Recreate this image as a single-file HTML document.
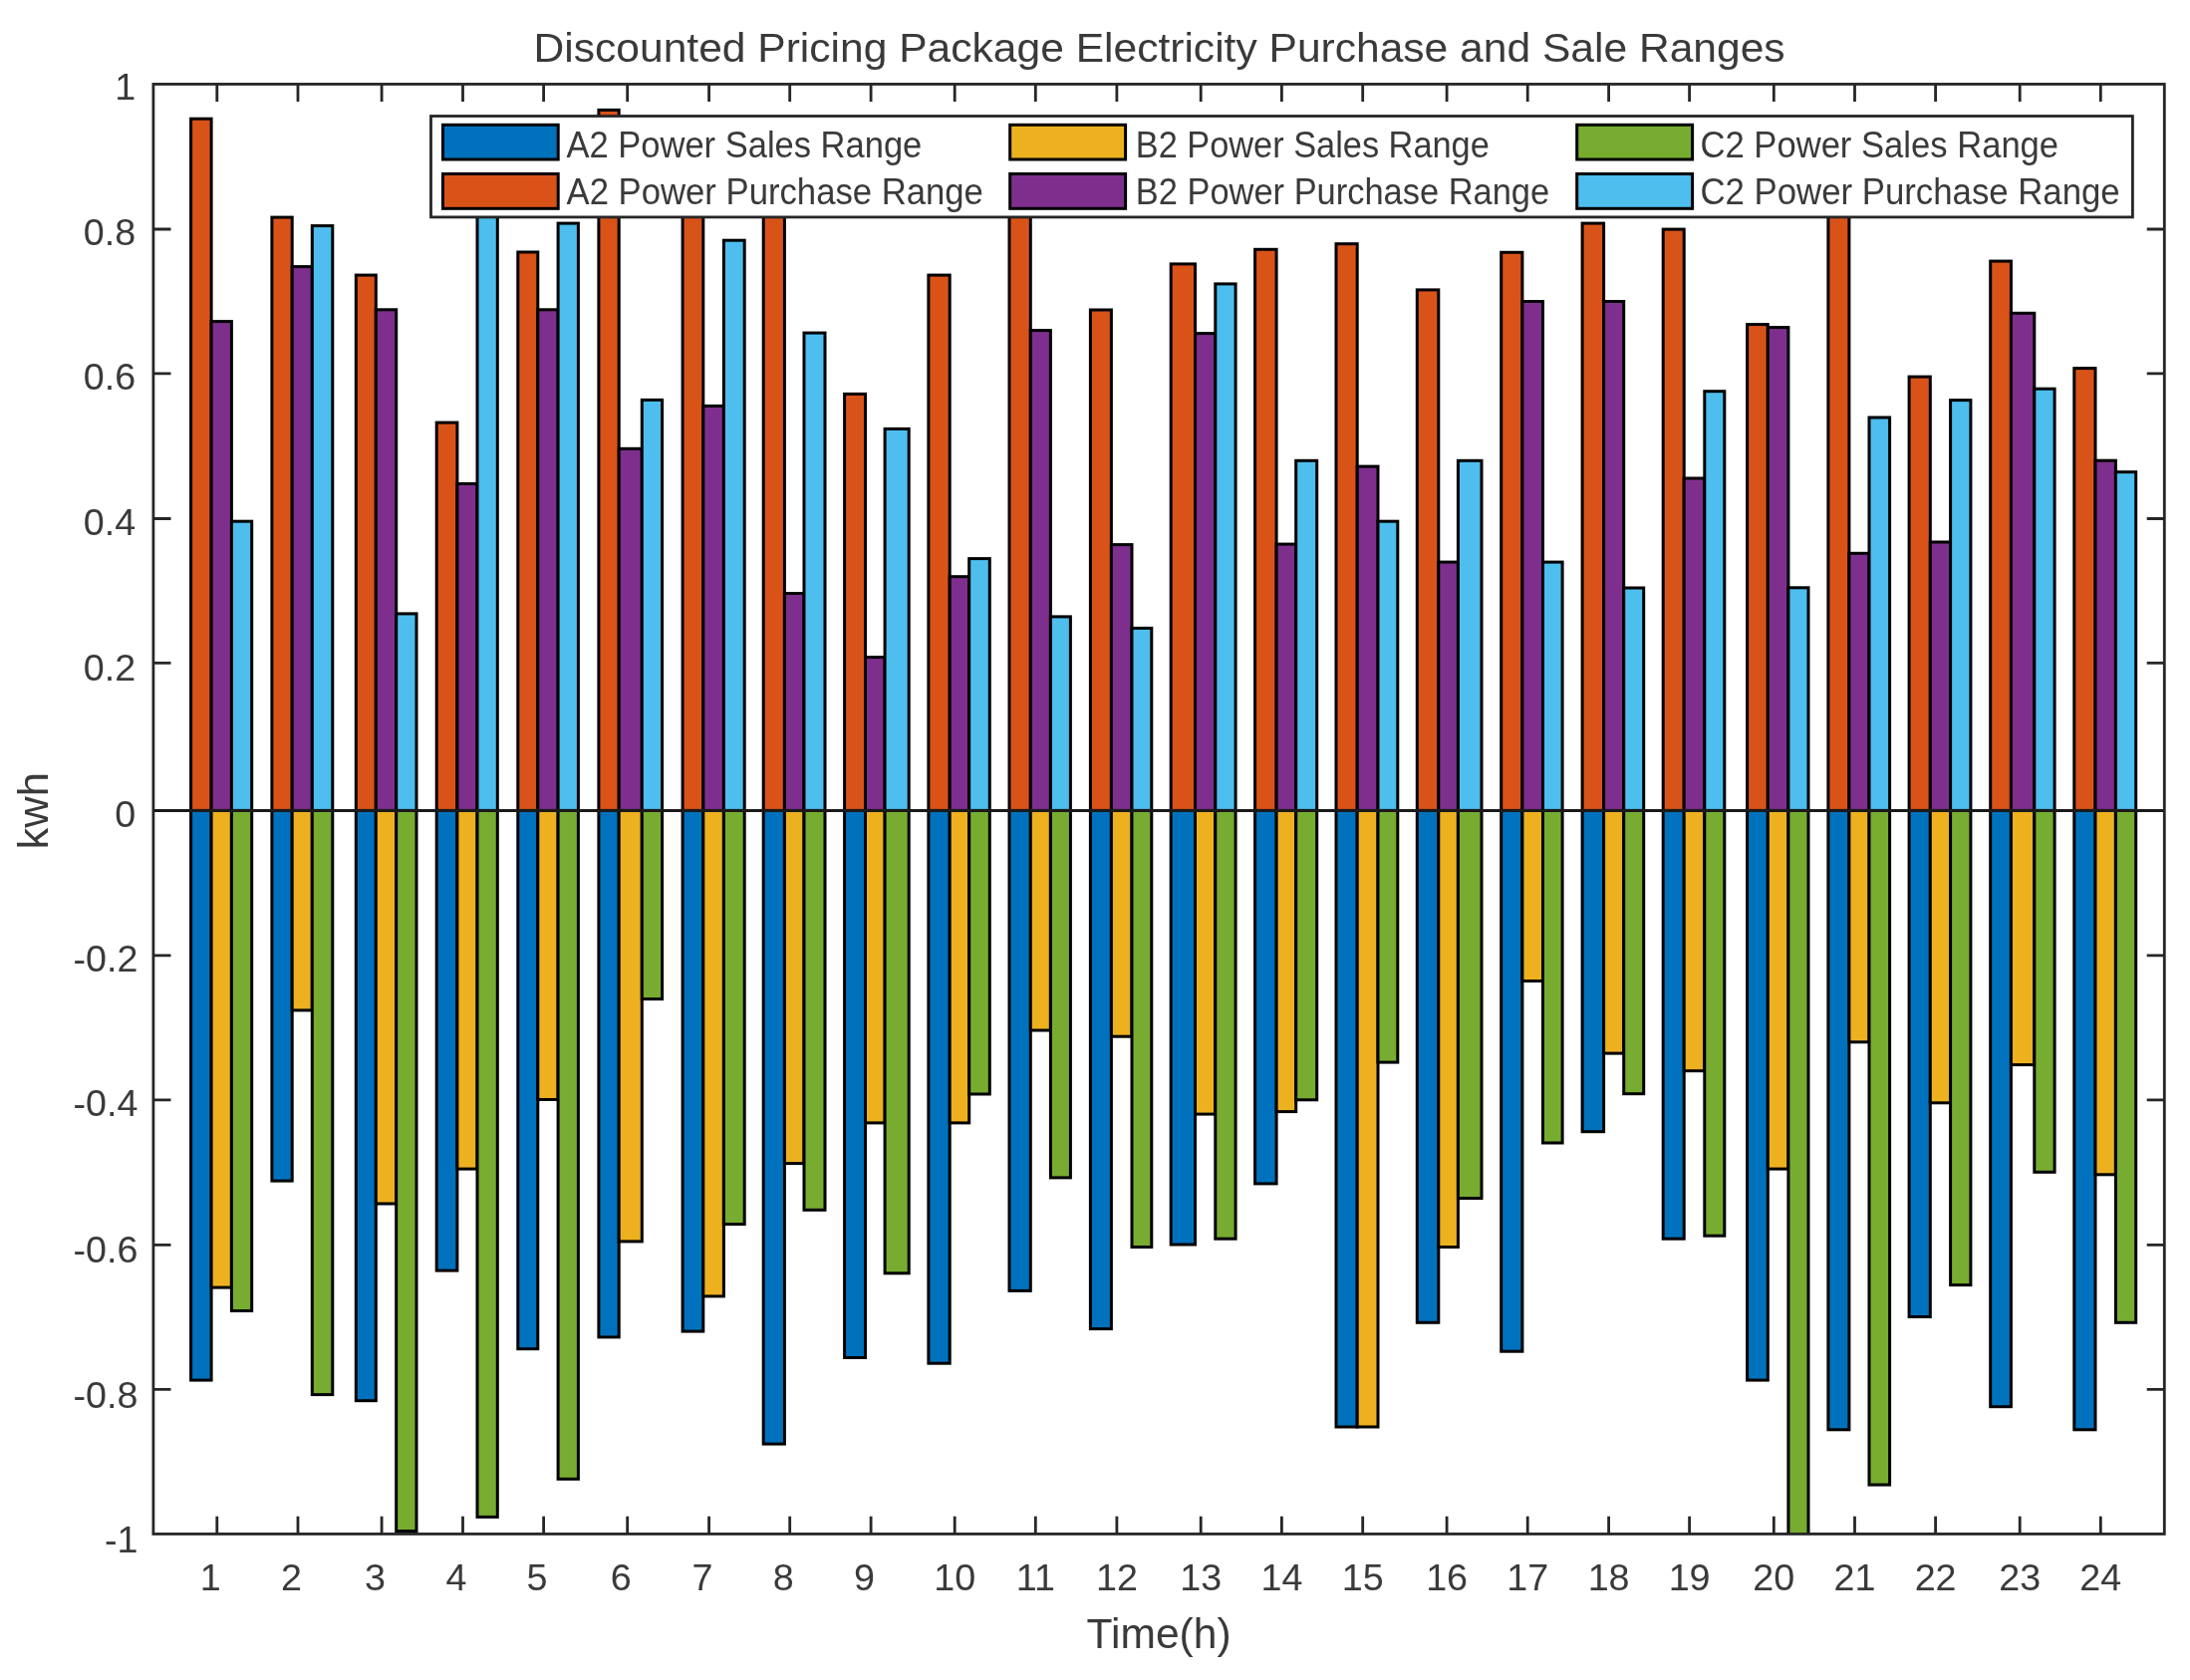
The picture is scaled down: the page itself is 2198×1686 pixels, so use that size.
<!DOCTYPE html>
<html lang="en"><head><meta charset="utf-8"><title>Discounted Pricing Package Electricity Purchase and Sale Ranges</title>
<style>html,body{margin:0;padding:0;background:#fff}body{width:2198px;height:1686px;overflow:hidden}svg{display:block;filter:blur(0.6px)}text{font-family:"Liberation Sans",sans-serif;fill:#3a3a3a}</style></head><body>
<svg width="2198" height="1686" viewBox="0 0 2198 1686">
<defs><clipPath id="ax"><rect x="153.9" y="84.45" width="2018.4" height="1455"/></clipPath></defs>
<rect width="2198" height="1686" fill="#fff"/>
<g stroke="#262626" stroke-width="2.8" fill="none">
<path d="M217.8 84.45 v17.6 M217.8 1539.45 v-17.6"/>
<path d="M299 84.45 v17.6 M299 1539.45 v-17.6"/>
<path d="M383.1 84.45 v17.6 M383.1 1539.45 v-17.6"/>
<path d="M464.5 84.45 v17.6 M464.5 1539.45 v-17.6"/>
<path d="M545.6 84.45 v17.6 M545.6 1539.45 v-17.6"/>
<path d="M629.7 84.45 v17.6 M629.7 1539.45 v-17.6"/>
<path d="M711.6 84.45 v17.6 M711.6 1539.45 v-17.6"/>
<path d="M792.7 84.45 v17.6 M792.7 1539.45 v-17.6"/>
<path d="M874.1 84.45 v17.6 M874.1 1539.45 v-17.6"/>
<path d="M958.2 84.45 v17.6 M958.2 1539.45 v-17.6"/>
<path d="M1039.3 84.45 v17.6 M1039.3 1539.45 v-17.6"/>
<path d="M1120.9 84.45 v17.6 M1120.9 1539.45 v-17.6"/>
<path d="M1205.2 84.45 v17.6 M1205.2 1539.45 v-17.6"/>
<path d="M1286.4 84.45 v17.6 M1286.4 1539.45 v-17.6"/>
<path d="M1367.7 84.45 v17.6 M1367.7 1539.45 v-17.6"/>
<path d="M1452.1 84.45 v17.6 M1452.1 1539.45 v-17.6"/>
<path d="M1533.2 84.45 v17.6 M1533.2 1539.45 v-17.6"/>
<path d="M1614.6 84.45 v17.6 M1614.6 1539.45 v-17.6"/>
<path d="M1695.6 84.45 v17.6 M1695.6 1539.45 v-17.6"/>
<path d="M1780.3 84.45 v17.6 M1780.3 1539.45 v-17.6"/>
<path d="M1861.5 84.45 v17.6 M1861.5 1539.45 v-17.6"/>
<path d="M1942.6 84.45 v17.6 M1942.6 1539.45 v-17.6"/>
<path d="M2027.2 84.45 v17.6 M2027.2 1539.45 v-17.6"/>
<path d="M2108.3 84.45 v17.6 M2108.3 1539.45 v-17.6"/>
<path d="M153.9 230 h17.6 M2172.3 230 h-17.6"/>
<path d="M153.9 374.9 h17.6 M2172.3 374.9 h-17.6"/>
<path d="M153.9 520.5 h17.6 M2172.3 520.5 h-17.6"/>
<path d="M153.9 665.3 h17.6 M2172.3 665.3 h-17.6"/>
<path d="M153.9 813.4 h17.6 M2172.3 813.4 h-17.6"/>
<path d="M153.9 958.8 h17.6 M2172.3 958.8 h-17.6"/>
<path d="M153.9 1103.9 h17.6 M2172.3 1103.9 h-17.6"/>
<path d="M153.9 1249.4 h17.6 M2172.3 1249.4 h-17.6"/>
<path d="M153.9 1394.3 h17.6 M2172.3 1394.3 h-17.6"/>
</g>
<g clip-path="url(#ax)" stroke="#000" stroke-width="3">
<rect x="191.6" y="813.4" width="20.5" height="571.7" fill="#0072BD"/>
<rect x="212.1" y="813.4" width="20.3" height="478.7" fill="#EDB120"/>
<rect x="232.4" y="813.4" width="20.3" height="502.1" fill="#77AC30"/>
<rect x="191.6" y="119.2" width="20.5" height="694.2" fill="#D95319"/>
<rect x="212.1" y="322.6" width="20.3" height="490.8" fill="#7E2F8E"/>
<rect x="232.4" y="523.2" width="20.3" height="290.2" fill="#4DBEEE"/>
<rect x="272.9" y="813.4" width="20.3" height="371.7" fill="#0072BD"/>
<rect x="293.2" y="813.4" width="20.1" height="200.5" fill="#EDB120"/>
<rect x="313.3" y="813.4" width="20.5" height="586.2" fill="#77AC30"/>
<rect x="272.9" y="218.1" width="20.3" height="595.3" fill="#D95319"/>
<rect x="293.2" y="267.6" width="20.1" height="545.8" fill="#7E2F8E"/>
<rect x="313.3" y="226.6" width="20.5" height="586.8" fill="#4DBEEE"/>
<rect x="357.3" y="813.4" width="20.0" height="592.3" fill="#0072BD"/>
<rect x="377.3" y="813.4" width="20.4" height="394.6" fill="#EDB120"/>
<rect x="397.7" y="813.4" width="20.3" height="723.2" fill="#77AC30"/>
<rect x="357.3" y="276.1" width="20.0" height="537.3" fill="#D95319"/>
<rect x="377.3" y="310.8" width="20.4" height="502.6" fill="#7E2F8E"/>
<rect x="397.7" y="615.9" width="20.3" height="197.5" fill="#4DBEEE"/>
<rect x="438.2" y="813.4" width="20.7" height="461.7" fill="#0072BD"/>
<rect x="458.9" y="813.4" width="20.1" height="359.7" fill="#EDB120"/>
<rect x="479.0" y="813.4" width="20.3" height="709.0" fill="#77AC30"/>
<rect x="438.2" y="424.1" width="20.7" height="389.3" fill="#D95319"/>
<rect x="458.9" y="485.5" width="20.1" height="327.9" fill="#7E2F8E"/>
<rect x="479.0" y="165.9" width="20.3" height="647.5" fill="#4DBEEE"/>
<rect x="519.8" y="813.4" width="20.0" height="540.3" fill="#0072BD"/>
<rect x="539.8" y="813.4" width="20.3" height="290.1" fill="#EDB120"/>
<rect x="560.1" y="813.4" width="20.3" height="670.9" fill="#77AC30"/>
<rect x="519.8" y="253.0" width="20.0" height="560.4" fill="#D95319"/>
<rect x="539.8" y="310.8" width="20.3" height="502.6" fill="#7E2F8E"/>
<rect x="560.1" y="224.1" width="20.3" height="589.3" fill="#4DBEEE"/>
<rect x="600.9" y="813.4" width="20.3" height="528.5" fill="#0072BD"/>
<rect x="621.2" y="813.4" width="23.1" height="432.5" fill="#EDB120"/>
<rect x="644.3" y="813.4" width="20.3" height="189.2" fill="#77AC30"/>
<rect x="600.9" y="110.4" width="20.3" height="703.0" fill="#D95319"/>
<rect x="621.2" y="450.3" width="23.1" height="363.1" fill="#7E2F8E"/>
<rect x="644.3" y="401.4" width="20.3" height="412.0" fill="#4DBEEE"/>
<rect x="685.1" y="813.4" width="20.7" height="522.7" fill="#0072BD"/>
<rect x="705.8" y="813.4" width="20.6" height="487.5" fill="#EDB120"/>
<rect x="726.4" y="813.4" width="20.8" height="415.2" fill="#77AC30"/>
<rect x="685.1" y="165.9" width="20.7" height="647.5" fill="#D95319"/>
<rect x="705.8" y="407.4" width="20.6" height="406.0" fill="#7E2F8E"/>
<rect x="726.4" y="241.2" width="20.8" height="572.2" fill="#4DBEEE"/>
<rect x="766.2" y="813.4" width="21.2" height="635.7" fill="#0072BD"/>
<rect x="787.4" y="813.4" width="19.6" height="354.2" fill="#EDB120"/>
<rect x="807.0" y="813.4" width="21.0" height="400.9" fill="#77AC30"/>
<rect x="766.2" y="165.9" width="21.2" height="647.5" fill="#D95319"/>
<rect x="787.4" y="595.5" width="19.6" height="217.9" fill="#7E2F8E"/>
<rect x="807.0" y="334.1" width="21.0" height="479.3" fill="#4DBEEE"/>
<rect x="847.6" y="813.4" width="20.9" height="549.1" fill="#0072BD"/>
<rect x="868.5" y="813.4" width="19.6" height="313.5" fill="#EDB120"/>
<rect x="888.1" y="813.4" width="24.1" height="464.4" fill="#77AC30"/>
<rect x="847.6" y="395.4" width="20.9" height="418.0" fill="#D95319"/>
<rect x="868.5" y="659.6" width="19.6" height="153.8" fill="#7E2F8E"/>
<rect x="888.1" y="430.4" width="24.1" height="383.0" fill="#4DBEEE"/>
<rect x="931.9" y="813.4" width="21.3" height="554.8" fill="#0072BD"/>
<rect x="953.2" y="813.4" width="19.5" height="313.5" fill="#EDB120"/>
<rect x="972.7" y="813.4" width="20.6" height="284.6" fill="#77AC30"/>
<rect x="931.9" y="276.1" width="21.3" height="537.3" fill="#D95319"/>
<rect x="953.2" y="578.7" width="19.5" height="234.7" fill="#7E2F8E"/>
<rect x="972.7" y="560.6" width="20.6" height="252.8" fill="#4DBEEE"/>
<rect x="1013.0" y="813.4" width="21.3" height="482.0" fill="#0072BD"/>
<rect x="1034.3" y="813.4" width="20.1" height="220.6" fill="#EDB120"/>
<rect x="1054.4" y="813.4" width="20.0" height="368.5" fill="#77AC30"/>
<rect x="1013.0" y="165.9" width="21.3" height="647.5" fill="#D95319"/>
<rect x="1034.3" y="331.6" width="20.1" height="481.8" fill="#7E2F8E"/>
<rect x="1054.4" y="618.9" width="20.0" height="194.5" fill="#4DBEEE"/>
<rect x="1094.4" y="813.4" width="21.0" height="520.2" fill="#0072BD"/>
<rect x="1115.4" y="813.4" width="20.6" height="226.8" fill="#EDB120"/>
<rect x="1136.0" y="813.4" width="19.8" height="438.1" fill="#77AC30"/>
<rect x="1094.4" y="311.0" width="21.0" height="502.4" fill="#D95319"/>
<rect x="1115.4" y="546.6" width="20.6" height="266.8" fill="#7E2F8E"/>
<rect x="1136.0" y="630.4" width="19.8" height="183.0" fill="#4DBEEE"/>
<rect x="1175.2" y="813.4" width="24.3" height="435.6" fill="#0072BD"/>
<rect x="1199.5" y="813.4" width="20.3" height="304.7" fill="#EDB120"/>
<rect x="1219.8" y="813.4" width="20.3" height="429.8" fill="#77AC30"/>
<rect x="1175.2" y="264.9" width="24.3" height="548.5" fill="#D95319"/>
<rect x="1199.5" y="334.6" width="20.3" height="478.8" fill="#7E2F8E"/>
<rect x="1219.8" y="284.9" width="20.3" height="528.5" fill="#4DBEEE"/>
<rect x="1259.6" y="813.4" width="21.5" height="374.5" fill="#0072BD"/>
<rect x="1281.1" y="813.4" width="19.6" height="302.2" fill="#EDB120"/>
<rect x="1300.7" y="813.4" width="21.0" height="290.4" fill="#77AC30"/>
<rect x="1259.6" y="250.3" width="21.5" height="563.1" fill="#D95319"/>
<rect x="1281.1" y="546.1" width="19.6" height="267.3" fill="#7E2F8E"/>
<rect x="1300.7" y="462.3" width="21.0" height="351.1" fill="#4DBEEE"/>
<rect x="1341.0" y="813.4" width="21.2" height="618.6" fill="#0072BD"/>
<rect x="1362.2" y="813.4" width="20.8" height="618.6" fill="#EDB120"/>
<rect x="1383.0" y="813.4" width="19.8" height="252.7" fill="#77AC30"/>
<rect x="1341.0" y="244.7" width="21.2" height="568.7" fill="#D95319"/>
<rect x="1362.2" y="468.1" width="20.8" height="345.3" fill="#7E2F8E"/>
<rect x="1383.0" y="523.2" width="19.8" height="290.2" fill="#4DBEEE"/>
<rect x="1422.3" y="813.4" width="21.5" height="513.9" fill="#0072BD"/>
<rect x="1443.8" y="813.4" width="19.6" height="438.1" fill="#EDB120"/>
<rect x="1463.4" y="813.4" width="23.6" height="389.2" fill="#77AC30"/>
<rect x="1422.3" y="290.9" width="21.5" height="522.5" fill="#D95319"/>
<rect x="1443.8" y="564.1" width="19.6" height="249.3" fill="#7E2F8E"/>
<rect x="1463.4" y="462.3" width="23.6" height="351.1" fill="#4DBEEE"/>
<rect x="1506.7" y="813.4" width="21.2" height="542.8" fill="#0072BD"/>
<rect x="1527.9" y="813.4" width="20.6" height="171.1" fill="#EDB120"/>
<rect x="1548.5" y="813.4" width="19.6" height="333.6" fill="#77AC30"/>
<rect x="1506.7" y="253.3" width="21.2" height="560.1" fill="#D95319"/>
<rect x="1527.9" y="302.5" width="20.6" height="510.9" fill="#7E2F8E"/>
<rect x="1548.5" y="564.1" width="19.6" height="249.3" fill="#4DBEEE"/>
<rect x="1588.1" y="813.4" width="21.5" height="322.3" fill="#0072BD"/>
<rect x="1609.6" y="813.4" width="20.1" height="243.7" fill="#EDB120"/>
<rect x="1629.7" y="813.4" width="20.0" height="284.3" fill="#77AC30"/>
<rect x="1588.1" y="224.1" width="21.5" height="589.3" fill="#D95319"/>
<rect x="1609.6" y="302.5" width="20.1" height="510.9" fill="#7E2F8E"/>
<rect x="1629.7" y="590.0" width="20.0" height="223.4" fill="#4DBEEE"/>
<rect x="1669.2" y="813.4" width="21.0" height="429.8" fill="#0072BD"/>
<rect x="1690.2" y="813.4" width="20.6" height="261.3" fill="#EDB120"/>
<rect x="1710.8" y="813.4" width="20.0" height="426.8" fill="#77AC30"/>
<rect x="1669.2" y="230.1" width="21.0" height="583.3" fill="#D95319"/>
<rect x="1690.2" y="480.0" width="20.6" height="333.4" fill="#7E2F8E"/>
<rect x="1710.8" y="392.7" width="20.0" height="420.7" fill="#4DBEEE"/>
<rect x="1753.6" y="813.4" width="20.7" height="571.7" fill="#0072BD"/>
<rect x="1774.3" y="813.4" width="20.6" height="359.7" fill="#EDB120"/>
<rect x="1794.9" y="813.4" width="20.1" height="745.7" fill="#77AC30"/>
<rect x="1753.6" y="325.6" width="20.7" height="487.8" fill="#D95319"/>
<rect x="1774.3" y="328.6" width="20.6" height="484.8" fill="#7E2F8E"/>
<rect x="1794.9" y="589.8" width="20.1" height="223.6" fill="#4DBEEE"/>
<rect x="1834.9" y="813.4" width="21.0" height="621.4" fill="#0072BD"/>
<rect x="1855.9" y="813.4" width="20.1" height="232.4" fill="#EDB120"/>
<rect x="1876.0" y="813.4" width="20.6" height="676.7" fill="#77AC30"/>
<rect x="1834.9" y="165.9" width="21.0" height="647.5" fill="#D95319"/>
<rect x="1855.9" y="555.3" width="20.1" height="258.1" fill="#7E2F8E"/>
<rect x="1876.0" y="419.0" width="20.6" height="394.4" fill="#4DBEEE"/>
<rect x="1916.1" y="813.4" width="21.2" height="508.1" fill="#0072BD"/>
<rect x="1937.3" y="813.4" width="20.3" height="293.4" fill="#EDB120"/>
<rect x="1957.6" y="813.4" width="20.3" height="476.2" fill="#77AC30"/>
<rect x="1916.1" y="378.1" width="21.2" height="435.3" fill="#D95319"/>
<rect x="1937.3" y="544.0" width="20.3" height="269.4" fill="#7E2F8E"/>
<rect x="1957.6" y="401.6" width="20.3" height="411.8" fill="#4DBEEE"/>
<rect x="1997.7" y="813.4" width="20.7" height="598.3" fill="#0072BD"/>
<rect x="2018.4" y="813.4" width="23.4" height="255.2" fill="#EDB120"/>
<rect x="2041.8" y="813.4" width="20.3" height="362.9" fill="#77AC30"/>
<rect x="1997.7" y="262.1" width="20.7" height="551.3" fill="#D95319"/>
<rect x="2018.4" y="314.3" width="23.4" height="499.1" fill="#7E2F8E"/>
<rect x="2041.8" y="390.2" width="20.3" height="423.2" fill="#4DBEEE"/>
<rect x="2081.8" y="813.4" width="21.2" height="621.4" fill="#0072BD"/>
<rect x="2103.0" y="813.4" width="20.4" height="365.4" fill="#EDB120"/>
<rect x="2123.4" y="813.4" width="20.3" height="513.9" fill="#77AC30"/>
<rect x="2081.8" y="369.6" width="21.2" height="443.8" fill="#D95319"/>
<rect x="2103.0" y="462.2" width="20.4" height="351.2" fill="#7E2F8E"/>
<rect x="2123.4" y="473.7" width="20.3" height="339.7" fill="#4DBEEE"/>
</g>
<path d="M153.9 813.4 H2172.3" stroke="#1a1a1a" stroke-width="3"/>
<rect x="153.9" y="84.45" width="2018.4" height="1455" fill="none" stroke="#262626" stroke-width="2.8"/>
<g font-size="37.7" text-anchor="end">
<text x="136.2" y="99.7">1</text>
<text x="136.2" y="245.5">0.8</text>
<text x="136.2" y="390.5">0.6</text>
<text x="136.2" y="536.5">0.4</text>
<text x="136.2" y="682.9">0.2</text>
<text x="136.2" y="829.5">0</text>
<text x="138.5" y="974.5">-0.2</text>
<text x="138.5" y="1119.5">-0.4</text>
<text x="138.5" y="1266.7">-0.6</text>
<text x="138.5" y="1412.9">-0.8</text>
<text x="138.5" y="1558.2">-1</text>
</g>
<g font-size="37.7" text-anchor="middle">
<text x="211.3" y="1595.6">1</text>
<text x="292.5" y="1595.6">2</text>
<text x="376.6" y="1595.6">3</text>
<text x="458" y="1595.6">4</text>
<text x="539.1" y="1595.6">5</text>
<text x="623.2" y="1595.6">6</text>
<text x="705.1" y="1595.6">7</text>
<text x="786.2" y="1595.6">8</text>
<text x="867.6" y="1595.6">9</text>
<text x="958.2" y="1595.6">10</text>
<text x="1039.3" y="1595.6">11</text>
<text x="1120.9" y="1595.6">12</text>
<text x="1205.2" y="1595.6">13</text>
<text x="1286.4" y="1595.6">14</text>
<text x="1367.7" y="1595.6">15</text>
<text x="1452.1" y="1595.6">16</text>
<text x="1533.2" y="1595.6">17</text>
<text x="1614.6" y="1595.6">18</text>
<text x="1695.6" y="1595.6">19</text>
<text x="1780.3" y="1595.6">20</text>
<text x="1861.5" y="1595.6">21</text>
<text x="1942.6" y="1595.6">22</text>
<text x="2027.2" y="1595.6">23</text>
<text x="2108.3" y="1595.6">24</text>
</g>
<text x="1090.6" y="1653.8" font-size="42" textLength="145" lengthAdjust="spacingAndGlyphs">Time(h)</text>
<text transform="translate(48 852.6) rotate(-90)" font-size="42.5" textLength="77.5" lengthAdjust="spacingAndGlyphs">kwh</text>
<text x="535.6" y="61.8" fill="#2b2b2b" font-size="41.4" textLength="1256" lengthAdjust="spacingAndGlyphs">Discounted Pricing Package Electricity Purchase and Sale Ranges</text>
<rect x="432.5" y="116.5" width="1707.9" height="101.4" fill="#fff" stroke="#262626" stroke-width="2.8"/>
<rect x="444.5" y="125.3" width="115.7" height="34.7" fill="#0072BD" stroke="#000" stroke-width="3"/>
<rect x="444.5" y="174.5" width="115.7" height="34.8" fill="#D95319" stroke="#000" stroke-width="3"/>
<text x="568.5" y="158.4" font-size="36" textLength="356.8" lengthAdjust="spacingAndGlyphs">A2 Power Sales Range</text>
<text x="568.5" y="204.8" font-size="36" textLength="418.4" lengthAdjust="spacingAndGlyphs">A2 Power Purchase Range</text>
<rect x="1013.7" y="125.3" width="115.9" height="34.7" fill="#EDB120" stroke="#000" stroke-width="3"/>
<rect x="1013.7" y="174.5" width="115.9" height="34.8" fill="#7E2F8E" stroke="#000" stroke-width="3"/>
<text x="1139.8" y="158.4" font-size="36" textLength="355" lengthAdjust="spacingAndGlyphs">B2 Power Sales Range</text>
<text x="1139.8" y="204.8" font-size="36" textLength="415.3" lengthAdjust="spacingAndGlyphs">B2 Power Purchase Range</text>
<rect x="1582.7" y="125.3" width="115.9" height="34.7" fill="#77AC30" stroke="#000" stroke-width="3"/>
<rect x="1582.7" y="174.5" width="115.9" height="34.8" fill="#4DBEEE" stroke="#000" stroke-width="3"/>
<text x="1706.5" y="158.4" font-size="36" textLength="359.6" lengthAdjust="spacingAndGlyphs">C2 Power Sales Range</text>
<text x="1706.5" y="204.8" font-size="36" textLength="421.2" lengthAdjust="spacingAndGlyphs">C2 Power Purchase Range</text>
</svg></body></html>
